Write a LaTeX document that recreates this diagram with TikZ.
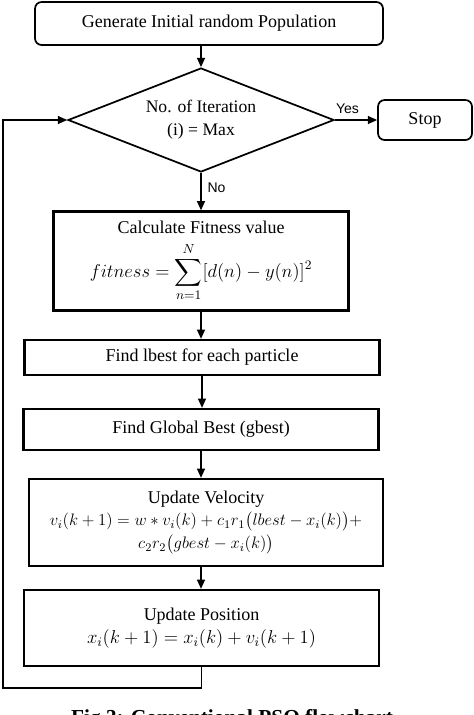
\RequirePackage{fix-cm}
\documentclass[tikz,border=0pt]{standalone}
\usepackage{amsmath}
\usepackage{fontspec}
\setmainfont{Liberation Serif}
\newfontfamily\yesnofont{Liberation Sans}
\usetikzlibrary{arrows.meta,shapes.geometric,positioning}

\begin{document}
\begin{tikzpicture}
	[x=0.75pt,y=-0.75pt,
	startstop/.style={rectangle,rounded corners=5pt,draw=black,line width=1.3pt,inner sep=0pt,font=\fontsize{13.5}{16}\selectfont},
	decision/.style={diamond,draw=black,line width=1.3pt,inner sep=0pt,aspect=2.56,minimum width=199.5pt,minimum height=78pt,align=center,font=\fontsize{13.2}{17}\selectfont},
	process/.style={rectangle,draw=black,line width=1.7pt,inner sep=0pt,align=center,font=\fontsize{13.5}{16}\selectfont},
	flow/.style={-{Triangle[length=7pt,width=6pt]},line width=1.1pt},
	answer/.style={font=\yesnofont\fontsize{10.5}{12}\selectfont}]
	\useasboundingbox (0,0) rectangle (474,715);
	\node (init) at (209,23.5) [startstop,minimum width=261pt,minimum height=32.25pt] {Generate Initial random Population};
	\node (iter) at (201,120) [decision] {No. of Iteration\\(i) = Max};
	\node (stop) at (425,120) [startstop,minimum width=70.5pt,minimum height=30pt] {Stop};
	\node (fit) at (201,261) [process,minimum width=221.25pt,minimum height=74.25pt]
		{Calculate Fitness value\\[6pt] \fontsize{14}{16}\selectfont $\displaystyle fitness=\sum_{n=1}^{N}[d(n)-y(n)]^2$};
	\node (lbest) at (202,357.5) [process,minimum width=266.25pt,minimum height=26.25pt] {Find lbest for each particle};
	\node (gbest) at (201,429.5) [process,minimum width=266.25pt,minimum height=30.75pt] {Find Global Best (gbest)};
	\node (vel) at (206,522.5) [process,minimum width=265.5pt,minimum height=65.25pt]
		{Update Velocity\\[1pt] \fontsize{12.5}{15}\selectfont $v_i(k+1)=w*v_i(k)+c_1r_1\big(lbest-x_i(k)\big)+$\\[1pt] \fontsize{12.5}{15}\selectfont $c_2r_2\big(gbest-x_i(k)\big)$};
	\node (pos) at (201.5,628) [process,minimum width=266.25pt,minimum height=57pt]
		{Update Position\\[1pt] \fontsize{14}{16}\selectfont $x_i(k+1)=x_i(k)+v_i(k+1)$};
	\coordinate (loop) at (3,688);
	% main flow
	\draw [flow] (iter.north |- init.south) -- (iter.north);
	\draw [flow] (iter.south) -- (iter.south |- fit.north) node[answer,pos=0.4,right=1pt] {No};
	\draw [flow] (iter.east) -- (stop.west) node[answer,pos=0.3,above=1pt] {Yes};
	\draw [flow] (fit.south) -- (fit.south |- lbest.north);
	\draw [flow] (lbest.south) -- (lbest.south |- gbest.north);
	\draw [flow] (gbest.south) -- (gbest.south |- vel.north);
	\draw [flow] (gbest.south |- vel.south) -- (gbest.south |- pos.north);
	% back to the test
	\draw [flow] (pos.south) |- (loop) |- (iter.west);
	\node (caption) at (232,724) [anchor=base,font=\bfseries\fontsize{16}{18}\selectfont] {Fig.3: Conventional PSO flowchart};
\end{tikzpicture}
\end{document}
